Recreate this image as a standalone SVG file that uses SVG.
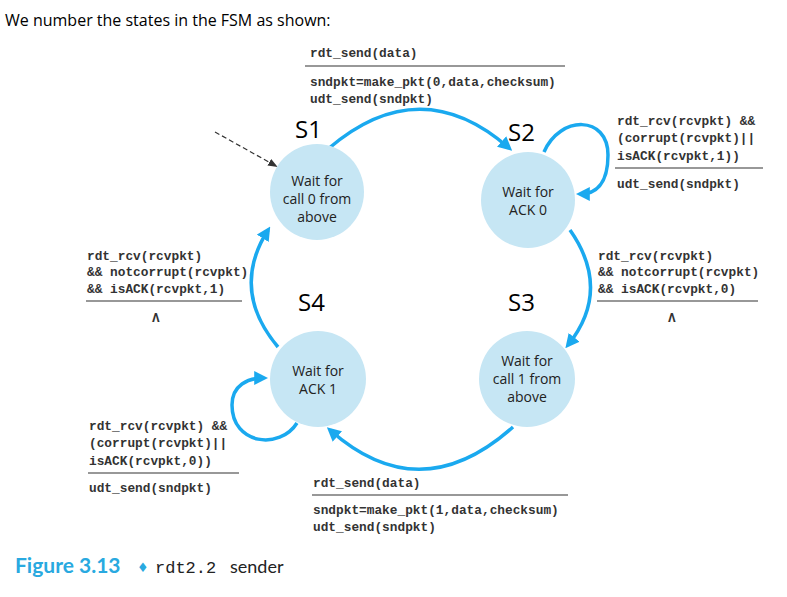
<svg xmlns="http://www.w3.org/2000/svg" width="787" height="597" viewBox="0 0 787 597">
<style>
.st{fill:#c6e6f4}
.sl{font-family:"Open Sans","Liberation Sans",sans-serif;font-size:14px;fill:#222;text-anchor:middle}
.m{font-family:"Liberation Mono",monospace;font-size:12.8px;font-weight:bold;fill:#333}
.lab{font-family:"Open Sans","Liberation Sans",sans-serif;font-size:24px;fill:#000}
.c{fill:none;stroke:#1aa9ef;stroke-width:3.5}
.r{stroke:#333;stroke-width:1.2}
</style>
<defs>
<marker id="a" viewBox="0 0 10 10" refX="7" refY="5" markerWidth="4" markerHeight="4" orient="auto"><path d="M0,0L10,5L0,10z" fill="#1aa9ef"/></marker>
<marker id="d" viewBox="0 0 10 10" refX="8" refY="5" markerWidth="8" markerHeight="8" orient="auto"><path d="M0,1L10,5L0,9z" fill="#333"/></marker>
</defs>
<rect width="787" height="597" fill="#fff"/>
<text x="5" y="26" font-family="Open Sans,Liberation Sans,sans-serif" font-size="16" fill="#000">We number the states in the FSM as shown:</text>
<g id="connectors">
<path d="M215,132L276,166" stroke="#333" stroke-width="1.2" stroke-dasharray="5,3" fill="none" marker-end="url(#d)"/>
<path class="c" d="M328,149Q420,70 509,148" marker-end="url(#a)"/>
<path class="c" d="M544,152C560,115 608,115 608,155C608,185 595,194 580,194" marker-end="url(#a)"/>
<path class="c" d="M570,230Q612,290 568,345" marker-end="url(#a)"/>
<path class="c" d="M513,427Q420,510 330,430" marker-end="url(#a)"/>
<path class="c" d="M297,423C280,450 232,445 232,405C232,385 248,378 264,378" marker-end="url(#a)"/>
<path class="c" d="M278,347Q230,290 268,230" marker-end="url(#a)"/>
</g>
<g id="s1"><ellipse class="st" cx="317" cy="192" rx="47" ry="48"/><text class="sl" x="317" y="186">Wait for</text><text class="sl" x="317" y="204">call 0 from</text><text class="sl" x="317" y="222">above</text><text class="lab" x="295" y="138">S1</text></g>
<g id="s2"><ellipse class="st" cx="528" cy="200" rx="47" ry="48"/><text class="sl" x="528" y="197">Wait for</text><text class="sl" x="528" y="215">ACK 0</text><text class="lab" x="508" y="141">S2</text></g>
<g id="s3"><ellipse class="st" cx="527" cy="379" rx="48" ry="48"/><text class="sl" x="527" y="366">Wait for</text><text class="sl" x="527" y="384">call 1 from</text><text class="sl" x="527" y="402">above</text><text class="lab" x="508" y="311">S3</text></g>
<g id="s4"><ellipse class="st" cx="318" cy="379" rx="48" ry="48"/><text class="sl" x="318" y="376">Wait for</text><text class="sl" x="318" y="394">ACK 1</text><text class="lab" x="298" y="311">S4</text></g>
<g id="labels">
<text class="m" x="310" y="57">rdt_send(data)</text><line class="r" x1="305" y1="66" x2="565" y2="66"/>
<text class="m" x="310" y="86">sndpkt=make_pkt(0,data,checksum)</text><text class="m" x="310" y="103">udt_send(sndpkt)</text>
<text class="m" x="617" y="125">rdt_rcv(rcvpkt) &amp;&amp;</text><text class="m" x="617" y="142">(corrupt(rcvpkt)||</text><text class="m" x="617" y="160">isACK(rcvpkt,1))</text><line class="r" x1="615" y1="168" x2="763" y2="168"/><text class="m" x="617" y="188">udt_send(sndpkt)</text>
<text class="m" x="598" y="260">rdt_rcv(rcvpkt)</text><text class="m" x="598" y="276">&amp;&amp; notcorrupt(rcvpkt)</text><text class="m" x="598" y="293">&amp;&amp; isACK(rcvpkt,0)</text><line class="r" x1="597" y1="301" x2="758" y2="301"/><text class="m" x="668" y="322">Λ</text>
<text class="m" x="87" y="260">rdt_rcv(rcvpkt)</text><text class="m" x="87" y="276">&amp;&amp; notcorrupt(rcvpkt)</text><text class="m" x="87" y="293">&amp;&amp; isACK(rcvpkt,1)</text><line class="r" x1="86" y1="301" x2="242" y2="301"/><text class="m" x="152" y="322">Λ</text>
<text class="m" x="89" y="430">rdt_rcv(rcvpkt) &amp;&amp;</text><text class="m" x="89" y="447">(corrupt(rcvpkt)||</text><text class="m" x="89" y="465">isACK(rcvpkt,0))</text><line class="r" x1="88" y1="473" x2="239" y2="473"/><text class="m" x="89" y="492">udt_send(sndpkt)</text>
<text class="m" x="313" y="487">rdt_send(data)</text><line class="r" x1="312" y1="495" x2="568" y2="495"/>
<text class="m" x="313" y="514">sndpkt=make_pkt(1,data,checksum)</text><text class="m" x="313" y="531">udt_send(sndpkt)</text>
<text x="15" y="573" font-family="Lato,Liberation Sans,sans-serif" font-size="21" font-weight="bold" fill="#29a9e0">Figure 3.13</text>
<text x="137" y="572" font-family="DejaVu Sans,sans-serif" font-size="13" fill="#29a9e0">♦</text>
<text x="155" y="573" font-family="Liberation Mono,monospace" font-size="17" fill="#222">rdt2.2</text>
<text x="230" y="573" font-family="Lato,Liberation Sans,sans-serif" font-size="18" fill="#222">sender</text>
</g>
</svg>
